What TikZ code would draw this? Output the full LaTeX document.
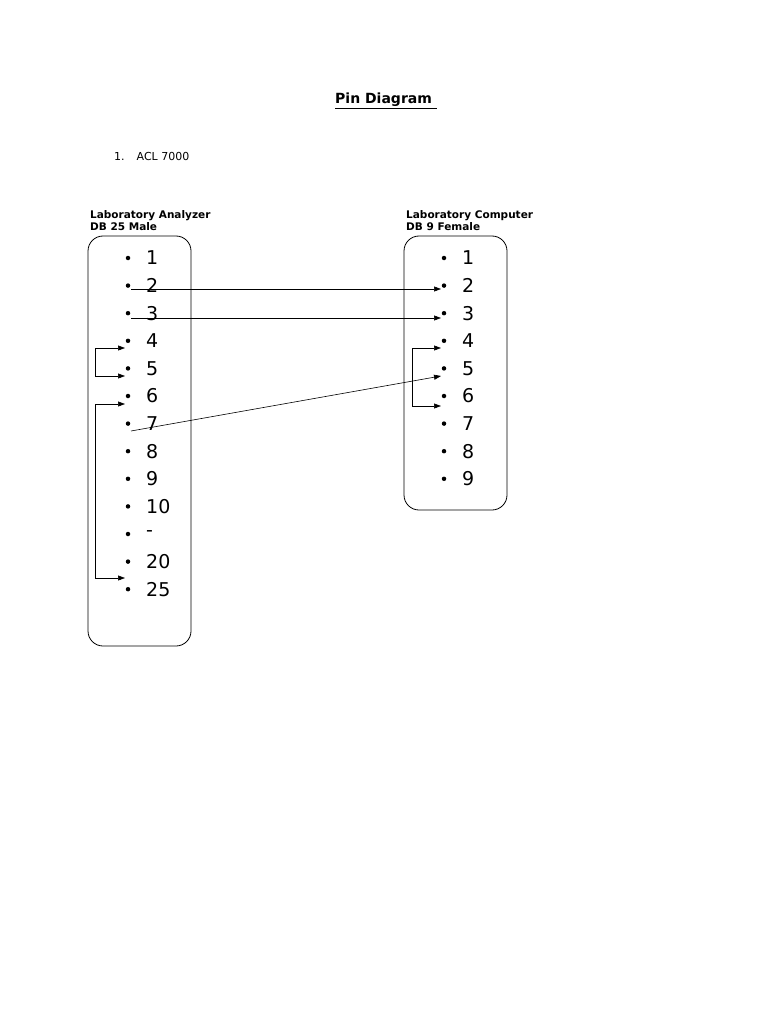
\documentclass[tikz,border=0pt]{standalone}
\usepackage{fontspec}
\setmainfont{DejaVu Sans}
\usetikzlibrary{arrows.meta}
\begin{document}
\begin{tikzpicture}[x=1pt,y=-1pt,
  box/.style={draw,rounded corners=15pt,line width=0.8pt},
  pin/.style={anchor=west,font=\fontsize{19}{19}\selectfont,inner sep=0pt},
  bul/.style={circle,fill,inner sep=0pt,minimum size=4.5pt},
  wire/.style={-{Triangle[length=7pt,width=5pt]},line width=0.6pt},
  hdr/.style={anchor=west,font=\fontsize{10.5}{12}\selectfont\bfseries,align=left,inner sep=0pt}]
\useasboundingbox (0,0) rectangle (768,1024);
\node[font=\fontsize{14}{14}\selectfont\bfseries] (title) at (386,101) {\underline{Pin Diagram\ }};
\node[anchor=west,font=\fontsize{11}{11}\selectfont,inner sep=0pt] (item) at (114,156) {1.\hspace{12pt}ACL 7000};
\node[hdr] (hl) at (90,220.5) {Laboratory Analyzer\\DB 25 Male};
\node[hdr] (hr) at (406,220.5) {Laboratory Computer\\DB 9 Female};
\draw[box] (88,236) rectangle (191,646);
\draw[box] (404,236) rectangle (507,510);
\foreach \t [count=\i] in {1,2,3,4,5,6,7,8,9,10,-,20,25}{
  \pgfmathsetmacro\yy{258+(\i-1)*27.6}
  \node[bul] (lb\i) at (128,\yy) {};
  \node[pin] (l\i) at (146,\yy) {\t};
}
\foreach \t [count=\i] in {1,2,3,4,5,6,7,8,9}{
  \pgfmathsetmacro\yy{258+(\i-1)*27.6}
  \node[bul] (rb\i) at (444,\yy) {};
  \node[pin] (r\i) at (462,\yy) {\t};
}
\coordinate (s2) at (131,289); \coordinate (e2) at (441,289);
\coordinate (s3) at (131,318); \coordinate (e3) at (441,318);
\coordinate (s7) at (131,431); \coordinate (e5) at (441,376);
\draw[wire] (s2) -- (e2);
\draw[wire] (s3) -- (e3);
\draw[wire] (s7) -- (e5);
\coordinate (a4) at (125,348); \coordinate (a5) at (125,376);
\coordinate (a6) at (125,404); \coordinate (a20) at (125,578);
\draw[wire] (a5) ++(0,0) coordinate (tmp) (95,376) -- (a5);
\draw[wire] (95,376) -- (95,348) -- (a4);
\draw[wire] (95,404) -- (95,578) -- (a20);
\draw[wire] (95,404) -- (a6);
\coordinate (b4) at (441,348); \coordinate (b6) at (441,406);
\draw[wire] (412,348) -- (b4);
\draw[wire] (412,348) -- (412,406) -- (b6);
\end{tikzpicture}
\end{document}
